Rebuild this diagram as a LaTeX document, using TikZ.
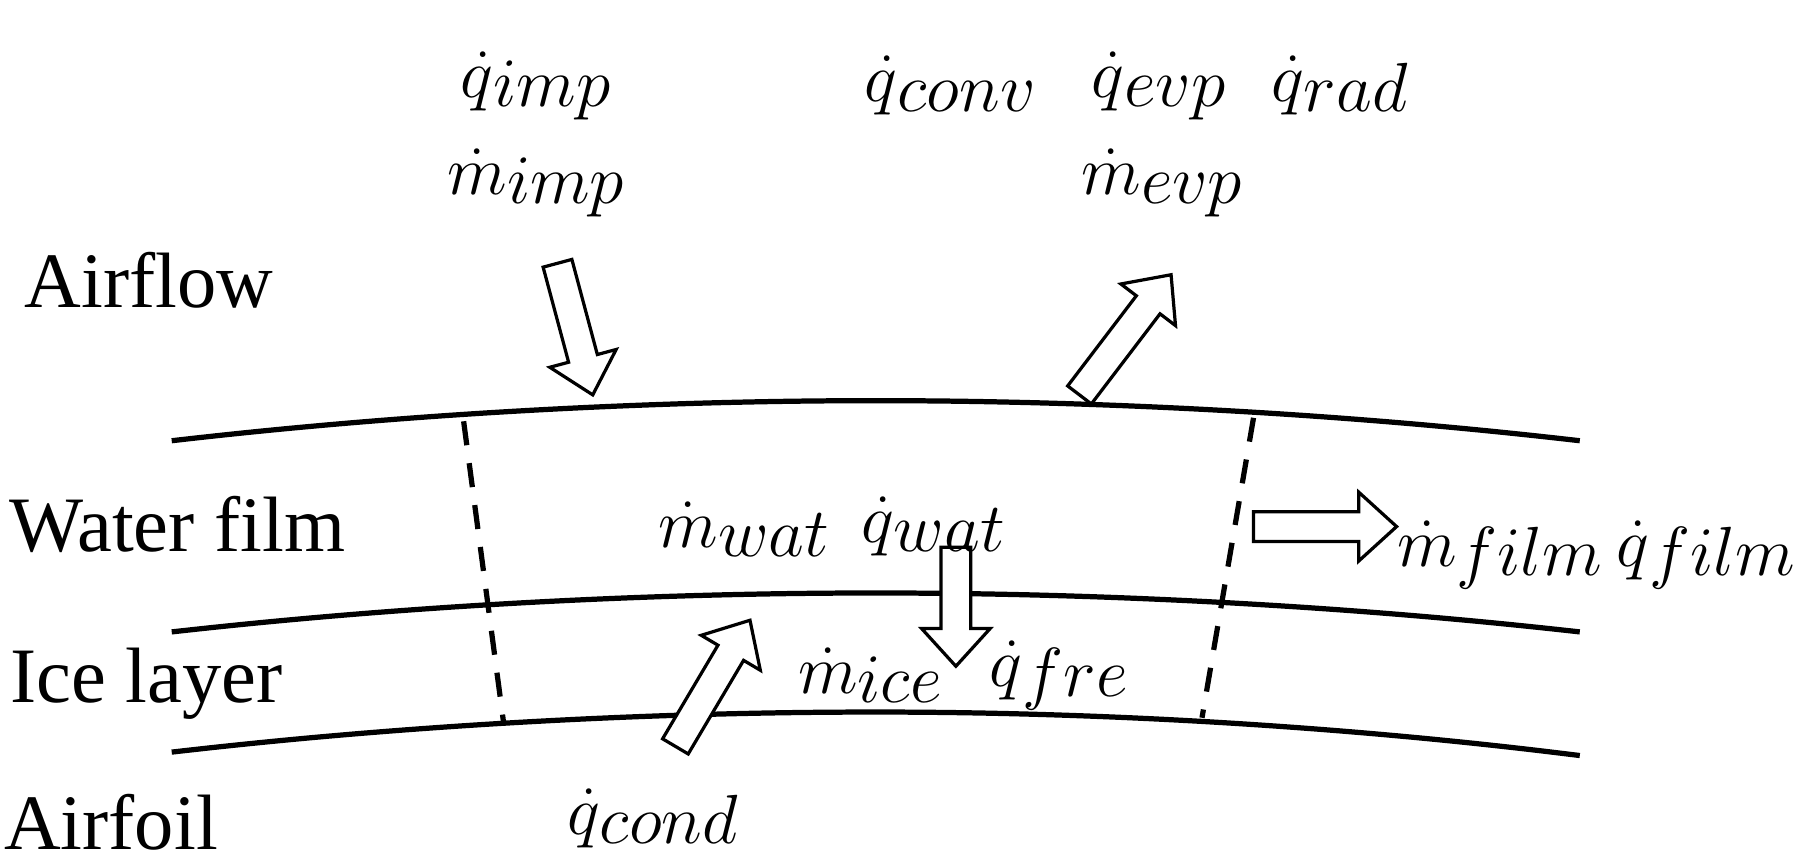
\documentclass[tikz,border=0pt]{standalone}
\usepackage{fontspec}
\setmainfont{Liberation Serif}
\newcommand\qlab[2]{{\fontsize{19}{22}\selectfont$\dot{#1}$}\raisebox{-0.5ex}{\fontsize{17}{20}\selectfont$#2$}}
\begin{document}
\begin{tikzpicture}[x=0.01cm,y=-0.01cm,
  lay/.style={line width=1.3pt},
  dsh/.style={line width=1.3pt,dash pattern=on 6pt off 4.5pt},
  lbl/.style={font=\fontsize{19.5}{23}\selectfont},
  blk/.style={draw,fill=white,line width=0.8pt}]
\useasboundingbox (0,0) rectangle (1568,758);
\newcommand\blockarrow[4]{\begin{scope}[shift={#1},rotate=#2]
\draw[blk] (0,-13)--(#3-33,-13)--(#3-33,-30)--(#3,0)--(#3-33,30)--(#3-33,13)--(0,13)--cycle;
\coordinate (#4) at (0,0);
\end{scope}}
\draw[lay] (150,385) parabola bend (765,350) (1380,385);
\draw[lay] (150,552) parabola bend (765,518) (1380,552);
\draw[lay] (150,657) parabola bend (765,622) (1380,660);
\draw[dsh] (405,368) -- (440,632);
\draw[dsh] (1095,365) -- (1050,627);
\blockarrow{(487,230)}{-75}{119}{a1}
\blockarrow{(943,345)}{52.7}{132}{a2}
\blockarrow{(1095,460)}{0}{125}{a3}
\blockarrow{(835,478)}{-90}{104}{a4}
\blockarrow{(590,652)}{59.4}{128}{a5}
\node (n1) at (468,75) {\qlab{q}{imp}};
\node (n2) at (468,160) {\qlab{m}{imp}};
\node (n3) at (830,75) {\qlab{q}{conv}};
\node (n4) at (1012,75) {\qlab{q}{evp}};
\node (n5) at (1170,75) {\qlab{q}{rad}};
\node (n6) at (1015,160) {\qlab{m}{evp}};
\node[lbl] (t1) at (130,245) {Airflow};
\node[lbl] (t2) at (155,458) {Water film};
\node[lbl] (t3) at (128,597) {Ice layer};
\node[lbl] (t4) at (97,718) {Airfoil};
\node (n7) at (650,462) {\qlab{m}{wat}};
\node (n8) at (815,460) {\qlab{q}{wat}};
\node (n9) at (1310,485) {\qlab{m}{film}};
\node (n10) at (1490,485) {\qlab{q}{film}};
\node (n11) at (760,590) {\qlab{m}{ice}};
\node (n12) at (925,590) {\qlab{q}{fre}};
\node (n13) at (570,715) {\qlab{q}{cond}};
\end{tikzpicture}
\end{document}
